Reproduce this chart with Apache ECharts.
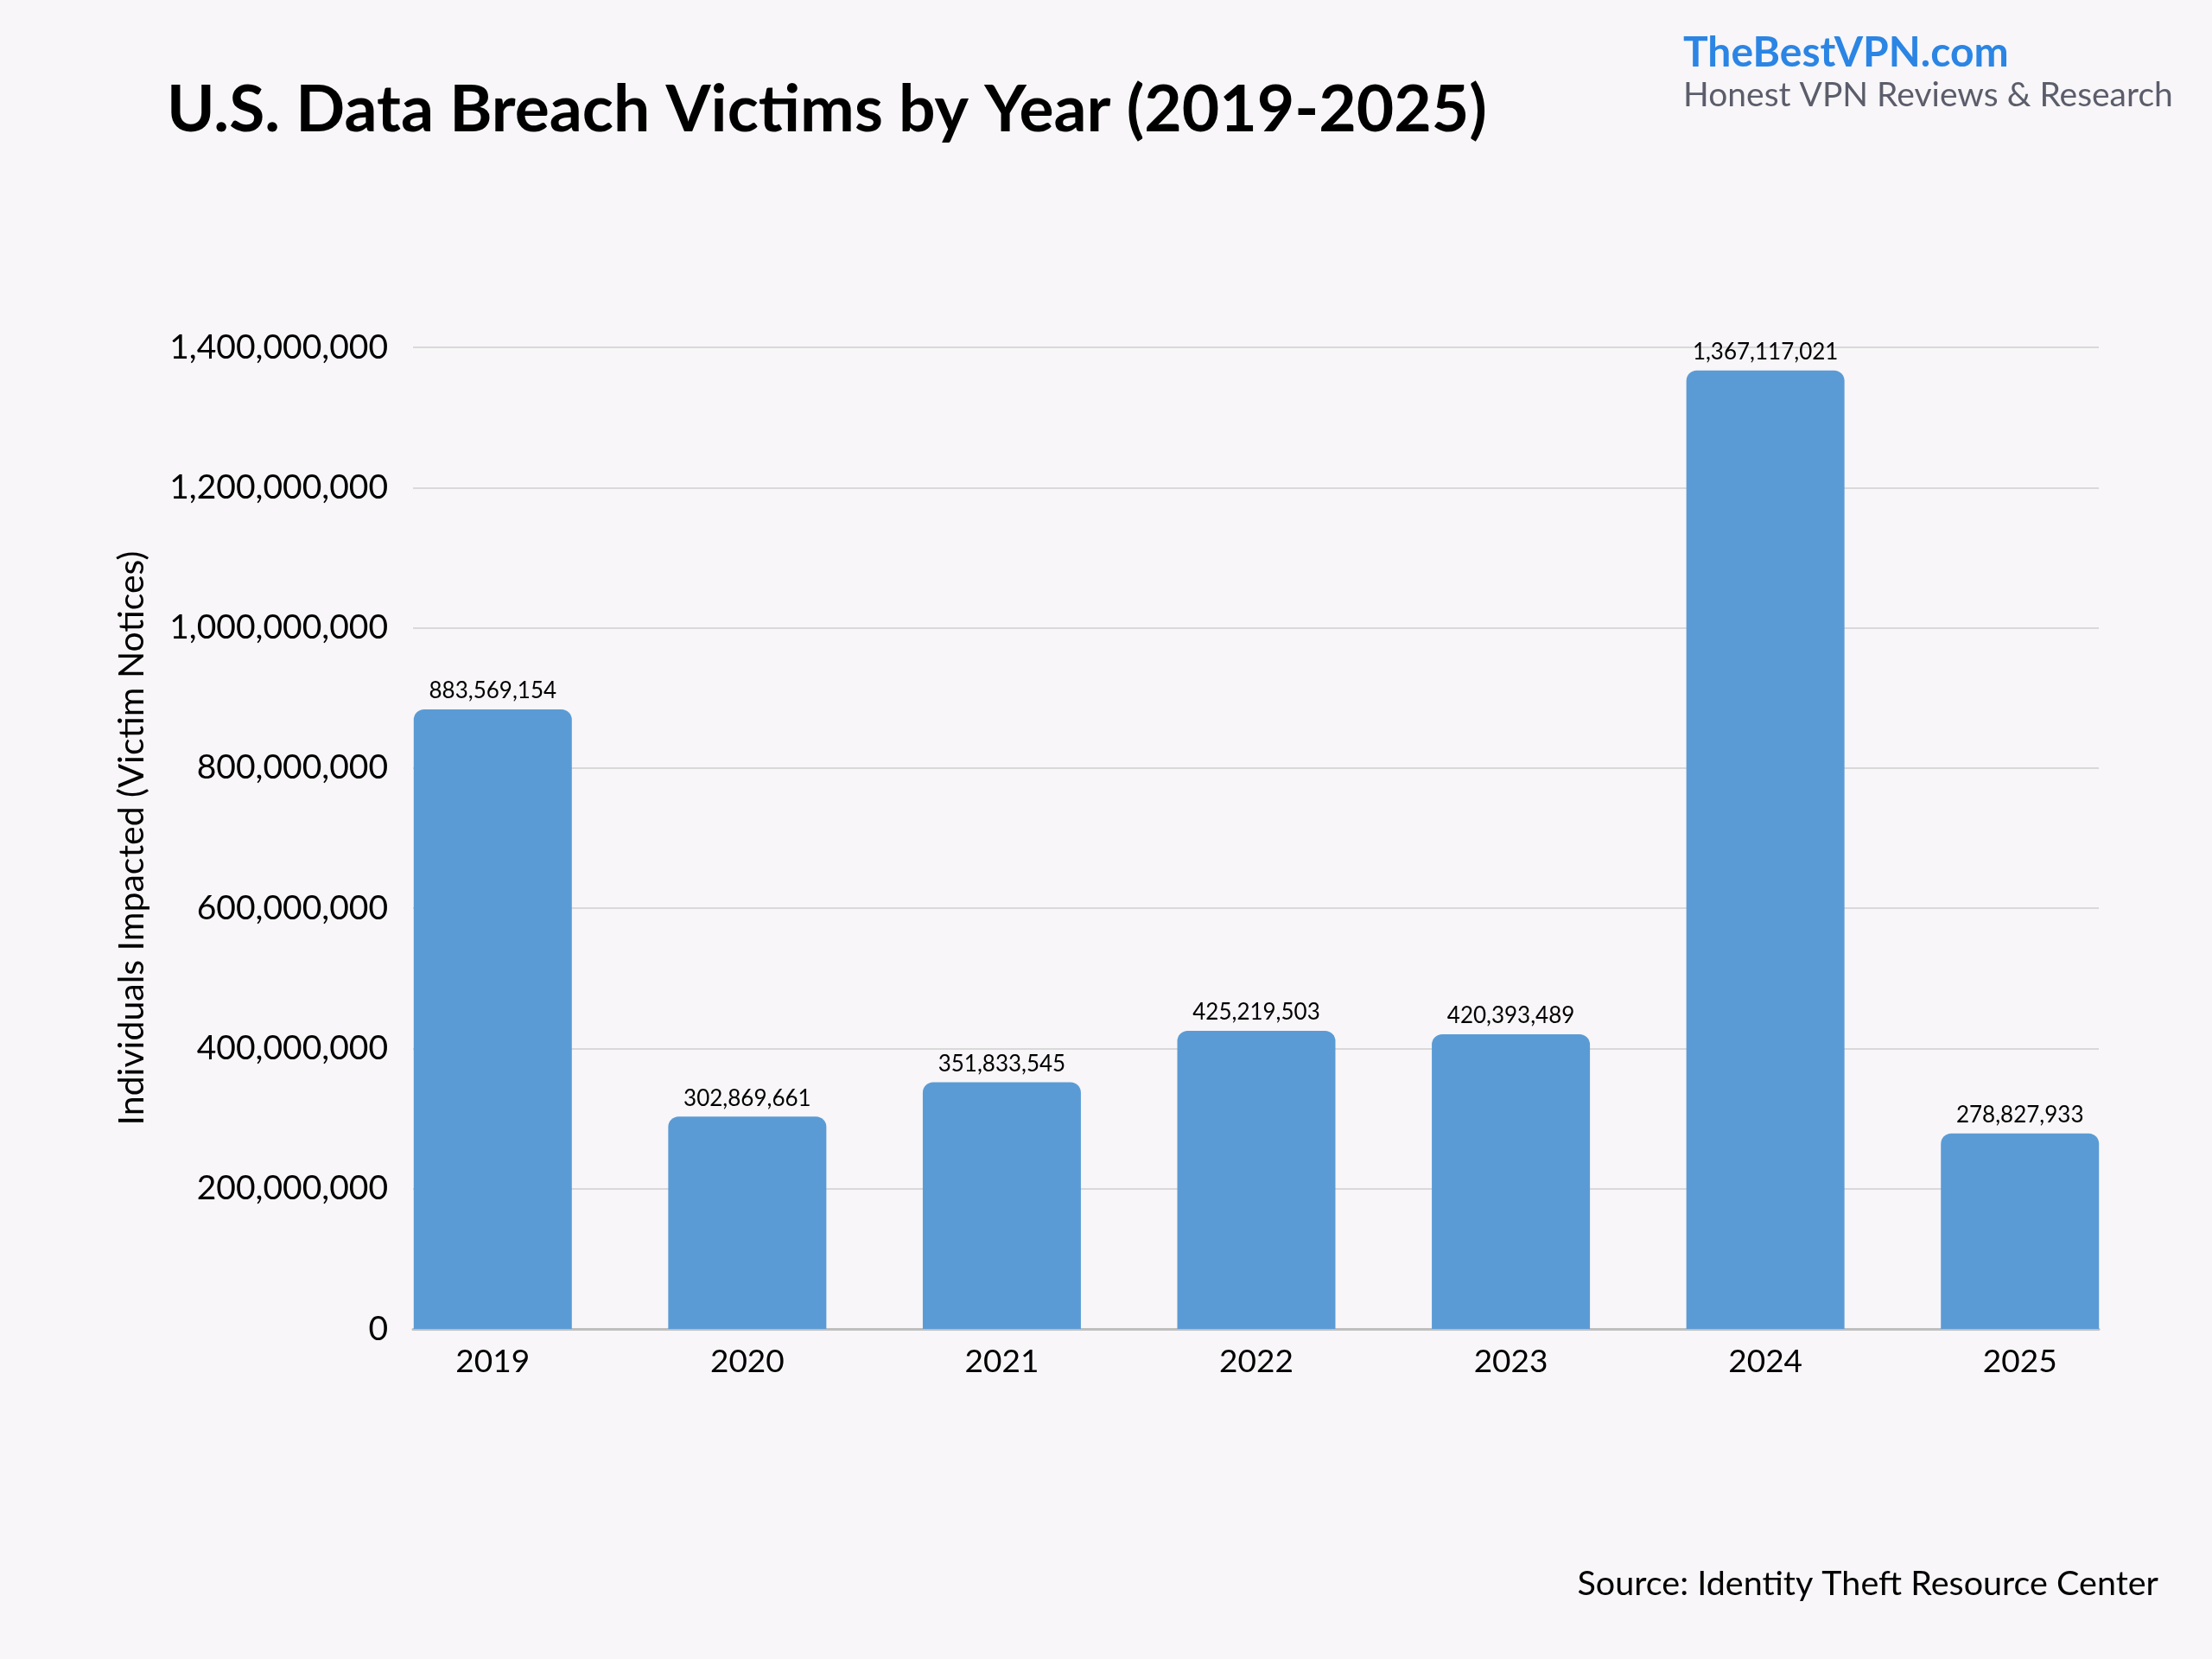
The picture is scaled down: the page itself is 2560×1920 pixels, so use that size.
<!DOCTYPE html>
<html>
<head>
<meta charset="utf-8">
<title>U.S. Data Breach Victims by Year (2019-2025)</title>
<script src="https://cdn.jsdelivr.net/npm/echarts@6/dist/echarts.min.js"></script>
<style>
  html, body { margin: 0; padding: 0; background: #f8f6f8; }
  #main { width: 2560px; height: 1920px; }
</style>
</head>
<body>
<div id="main"></div>
<script>
// data
var years = ['2019', '2020', '2021', '2022', '2023', '2024', '2025'];
var victims = [883569154, 302869661, 351833545, 425219503, 420393489, 1367117021, 278827933];
var yMax = 1400000000;
var yStep = 200000000;

var FONT = 'Lato, "Open Sans", sans-serif';
var fmt = function (v) { return Number(v).toLocaleString('en-US'); };

var chart = echarts.init(document.getElementById('main'));

var option = {
  backgroundColor: '#f8f6f8',
  textStyle: { fontFamily: FONT },
  graphic: [
    {
      type: 'text', left: 193, top: 90,
      style: { text: 'U.S. Data Breach Victims by Year (2019-2025)', font: 'bold 75px ' + FONT, fill: '#000' }
    },
    {
      type: 'text', left: 1948, top: 38,
      style: { text: 'TheBestVPN.com', font: 'bold 48px ' + FONT, fill: '#2b85e4' }
    },
    {
      type: 'text', left: 1948, top: 91,
      style: { text: 'Honest VPN Reviews & Research', font: '39px ' + FONT, fill: '#5b5d6b' }
    },
    {
      type: 'text', right: 62, top: 1813,
      style: { text: 'Source: Identity Theft Resource Center', font: '39.5px ' + FONT, fill: '#000' }
    }
  ],
  grid: [
    // axes + gridlines
    { left: 478, right: 131, top: 402, bottom: 382 },
    // bars + category labels
    { left: 423, right: 75, top: 402, bottom: 382 }
  ],
  xAxis: [
    {
      gridIndex: 0, type: 'category', data: years,
      axisLine: { show: true, lineStyle: { color: '#bfbfbf', width: 3 } },
      axisTick: { show: false }, axisLabel: { show: false }, splitLine: { show: false }
    },
    {
      gridIndex: 1, type: 'category', data: years,
      axisLine: { show: false }, axisTick: { show: false },
      axisLabel: { color: '#000', fontSize: 37, fontFamily: FONT, margin: 20 }
    }
  ],
  yAxis: [
    {
      gridIndex: 0, type: 'value', min: 0, max: yMax, interval: yStep,
      axisLine: { show: false }, axisTick: { show: false },
      splitLine: { lineStyle: { color: '#d9d9d9', width: 2 } },
      axisLabel: { color: '#000', fontSize: 39, fontFamily: FONT, margin: 29, formatter: fmt },
      name: 'Individuals Impacted (Victim Notices)',
      nameLocation: 'middle', nameRotate: 90, nameGap: 305,
      nameTextStyle: { color: '#000', fontSize: 41, fontFamily: FONT }
    },
    {
      gridIndex: 1, type: 'value', min: 0, max: yMax, interval: yStep, show: false,
      splitLine: { show: false }
    }
  ],
  series: [
    {
      type: 'bar', xAxisIndex: 1, yAxisIndex: 1,
      data: victims,
      barWidth: 183,
      itemStyle: { color: '#5b9bd5', borderRadius: [12, 12, 0, 0] },
      label: {
        show: true, position: 'top', distance: 8,
        color: '#000', fontSize: 26, fontFamily: FONT,
        formatter: function (p) { return fmt(p.value); }
      }
    }
  ]
};

chart.setOption(option);
</script>
</body>
</html>
